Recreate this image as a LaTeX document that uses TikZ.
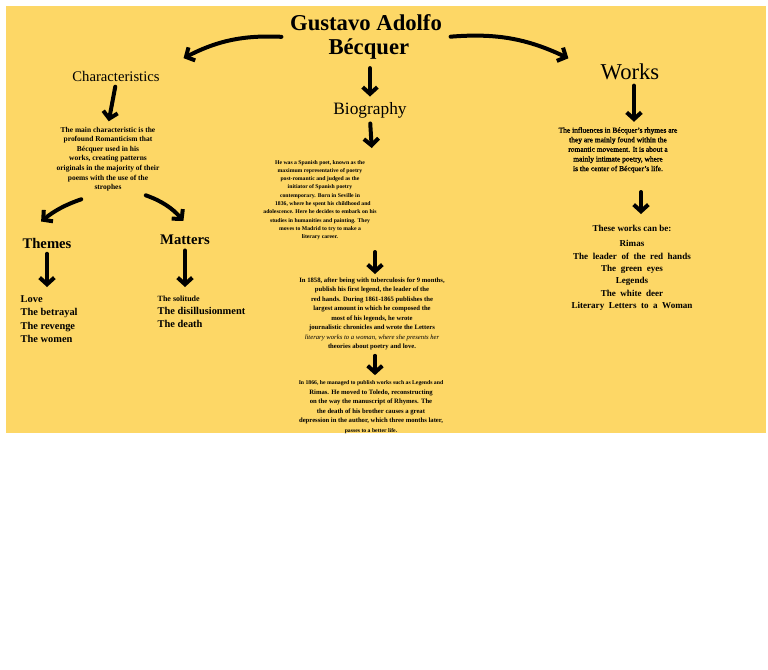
\documentclass[tikz,border=0pt]{standalone}
\usepackage{fontspec}
\setmainfont{Liberation Serif}
\usetikzlibrary{arrows.meta,positioning}
\definecolor{paper}{RGB}{253,215,102}
\tikzstyle{heading}=[font=\fontsize{11}{13}\selectfont,inner sep=1pt]
\tikzstyle{small}=[font=\bfseries\fontsize{5.6}{7.2}\selectfont,align=center,inner sep=1pt]
\tikzstyle{tiny}=[font=\bfseries\fontsize{4.3}{6.2}\selectfont,align=center,inner sep=1pt]
\tikzstyle{stroke}=[draw,line width=3pt,line cap=round,-{Straight Barb[length=5pt,width=11pt,line width=3pt]},shorten <=3pt,shorten >=3pt]
\begin{document}
\begin{tikzpicture}[x=0.75pt,y=-0.75pt]
\useasboundingbox (0,0) rectangle (768,669);
\fill[paper] (6,6) rectangle (766,433);

% title
\node[font=\bfseries\fontsize{17}{18}\selectfont,align=center] (title) at (366,37) {Gustavo Adolfo\\\ Bécquer};

%left
\node[heading] (char) at (116,76) {Characteristics};
\node[small] (chartext) at (108,159) {The main characteristic is the\\ profound Romanticism that\\ Bécquer used in his\\ works, creating patterns\\ originals in the majority of their\\ poems with the use of the\\ strophes};
\node[heading,font=\bfseries\fontsize{11}{13}\selectfont] (themes) at (47,243) {Themes};
\node[heading,font=\bfseries\fontsize{11}{13}\selectfont] (matters) at (185,240) {Matters};
\node[font=\bfseries\fontsize{7.8}{10}\selectfont,align=left,anchor=north west] (themelist) at (16,291) {Love\\The betrayal\\The revenge\\The women};
\node[font=\bfseries\fontsize{7.8}{10}\selectfont,align=left,anchor=north west] (matterlist) at (153,291) {{\fontsize{6}{10}\selectfont The solitude}\\The disillusionment\\The death};

\path[stroke] (title.west) to[bend right=15] (180,60);
\path[stroke] (char.south) -- (chartext.north);
\path[stroke] (85,198) to[bend right=10] (38,224);
\path[stroke] (142,194) to[bend left=15] (186,224);
\path[stroke] (themes.south) -- (themelist.north -| themes);
\path[stroke] (matters.south) -- (matterlist.north -| matters);

%center
\node[heading,font=\fontsize{13}{15}\selectfont] (bio) at (370,110) {Biography};
\node[tiny] (bio1) at (320,200) {He was a Spanish poet, known as the\\ maximum representative of poetry\\ post-romantic and judged as the\\ initiator of Spanish poetry\\ contemporary. Born in Seville in\\ \quad 1836, where he spent his childhood and\\ adolescence. Here he decides to embark on his\\ studies in humanities and painting. They\\ moves to Madrid to try to make a\\ literary career.};
\node[small,font=\bfseries\fontsize{5}{7.1}\selectfont] (bio2) at (372,314) {In 1858, after being with tuberculosis for 9 months,\\ publish his first legend, the leader of the\\ red hands. During 1861-1865 publishes the\\ largest amount in which he composed the\\ most of his legends, he wrote\\ journalistic chronicles and wrote the Letters\\ {\mdseries\itshape literary works to a woman, where she presents her}\\ theories about poetry and love.};
\node[small,font=\bfseries\fontsize{5}{7.1}\selectfont] (bio3) at (371,407) {{\fontsize{4.3}{7}\selectfont In 1866, he managed to publish works such as Legends and}\\ Rimas. He moved to Toledo, reconstructing\\ on the way the manuscript of Rhymes. The\\ the death of his brother causes a great\\ depression in the author, which three months later,\\ {\fontsize{4.3}{7}\selectfont passes to a better life.}};

\path[stroke] (title.south -| bio) -- (bio.north);
\path[stroke] (bio.south) -- (372,152);
\path[stroke] (375,248) -- (375,278);
\path[stroke] (bio2.south -| 375,0) -- (bio3.north -| 375,0);

%right
\node[heading,font=\fontsize{17}{19}\selectfont] (works) at (630,72) {Works};
\node[small,font=\mdseries\fontsize{5.6}{7.2}\selectfont\addfontfeature{FakeBold=2}] (workstext) at (618,150) {The influences in Bécquer's rhymes are\\ they are mainly found within the\\ romantic movement. It is about a\\ mainly intimate poetry, where\\ is the center of Bécquer's life.};
\node[small,font=\bfseries\fontsize{6.8}{9.3}\selectfont] (worklist) at (632,268) {These works can be:\\[2pt] Rimas\\ The\ \ leader\ \ of\ \ the\ \ red\ \ hands\\ The\ \ green\ \ eyes\\ Legends\\ The\ \ white\ \ deer\\ Literary\ \ Letters\ \ to\ \ a\ \ Woman};

\path[stroke] (title.east) to[bend left=15] (572,60);
\path[stroke] (works.south -| 634,0) -- (workstext.north -| 634,0);
\path[stroke] (641,188) -- (641,218);
\end{tikzpicture}
\end{document}
